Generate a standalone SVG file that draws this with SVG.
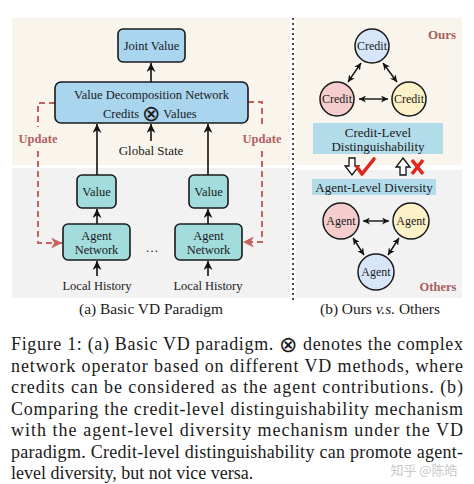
<svg xmlns="http://www.w3.org/2000/svg" width="474" height="484" viewBox="0 0 474 484">
<defs>
<style>
.t{font-family:"Liberation Serif","Times New Roman",serif;fill:#1a1a1a;text-anchor:middle}
.s12{font-size:12.5px}
.s13{font-size:13px}
.upd{font-family:"Liberation Serif","Times New Roman",serif;font-weight:bold;font-size:12.5px;fill:#b0605c;text-anchor:middle}
.box1{fill:#a9d5ef;stroke:#1a1a1a;stroke-width:1.6}
.box2{fill:#a3dcdc;stroke:#1a1a1a;stroke-width:1.6}
.lbl{fill:#b3dcea}
.conn{stroke:#111;stroke-width:1.6;fill:none}
.dash{stroke:#c4625e;stroke-width:2;fill:none;stroke-dasharray:6 4}
.dbl{stroke:#111;stroke-width:1.4;fill:none}
.cap{font-family:"Liberation Serif","Times New Roman",serif;font-size:18px;fill:#1a1a1a}
.otimes{font-family:"DejaVu Sans",sans-serif;font-weight:200}
</style>
<marker id="ah" viewBox="0 0 10 10" refX="10" refY="5" markerWidth="9" markerHeight="9" markerUnits="userSpaceOnUse" orient="auto-start-reverse"><path d="M0,0 L10,5 L0,10 L3,5 z" fill="#111"/></marker>
<marker id="ahs" viewBox="0 0 10 10" refX="10" refY="5" markerWidth="7" markerHeight="7" markerUnits="userSpaceOnUse" orient="auto-start-reverse"><path d="M0,0 L10,5 L0,10 L3,5 z" fill="#111"/></marker>
<marker id="ahr" viewBox="0 0 10 10" refX="10" refY="5" markerWidth="11" markerHeight="11" markerUnits="userSpaceOnUse" orient="auto"><path d="M0,0 L10,5 L0,10 L3,5 z" fill="#c4625e"/></marker>
</defs>
<rect width="474" height="484" fill="#ffffff"/>
<!-- panels -->
<g id="panels">
<rect x="12" y="18" width="278" height="147" fill="#f9f5ec"/>
<rect x="12" y="168" width="278" height="130" fill="#f2f2f2"/>
<rect x="296" y="18" width="166" height="147" fill="#f9f5ec"/>
<rect x="296" y="170" width="166" height="128" fill="#f2f2f2"/>
<line x1="293" y1="18" x2="293" y2="300" stroke="#111" stroke-width="1.5" stroke-dasharray="2 3"/>
</g>
<!-- connectors -->
<g id="connectors">
<line class="conn" x1="151" y1="82" x2="151" y2="63" marker-end="url(#ah)"/>
<line class="conn" x1="151" y1="141" x2="151" y2="124" marker-end="url(#ah)"/>
<line class="conn" x1="97" y1="175" x2="97" y2="124" marker-end="url(#ah)"/>
<line class="conn" x1="208" y1="175" x2="208" y2="124" marker-end="url(#ah)"/>
<line class="conn" x1="97" y1="224" x2="97" y2="209" marker-end="url(#ah)"/>
<line class="conn" x1="208" y1="224" x2="208" y2="209" marker-end="url(#ah)"/>
<line class="conn" x1="97" y1="276" x2="97" y2="261" marker-end="url(#ah)"/>
<line class="conn" x1="208" y1="276" x2="208" y2="261" marker-end="url(#ah)"/>
<path class="dash" d="M55,103 H38 V127"/>
<path class="dash" d="M38,151 V243 H62" marker-end="url(#ahr)"/>
<path class="dash" d="M248,102 H262 V127"/>
<path class="dash" d="M262,151 V242 H243" marker-end="url(#ahr)"/>
<line class="dbl" x1="348" y1="82" x2="361" y2="63" marker-start="url(#ahs)" marker-end="url(#ahs)"/>
<line class="dbl" x1="383" y1="63" x2="397" y2="82" marker-start="url(#ahs)" marker-end="url(#ahs)"/>
<line class="dbl" x1="359" y1="99" x2="388" y2="99" marker-start="url(#ahs)" marker-end="url(#ahs)"/>
<line class="dbl" x1="363" y1="221" x2="389" y2="221" marker-start="url(#ahs)" marker-end="url(#ahs)"/>
<line class="dbl" x1="353" y1="238" x2="364" y2="255" marker-start="url(#ahs)" marker-end="url(#ahs)"/>
<line class="dbl" x1="399" y1="238" x2="388" y2="255" marker-start="url(#ahs)" marker-end="url(#ahs)"/>
</g>
<!-- left panel nodes -->
<g id="joint-value"><rect class="box1" x="118" y="29" width="67" height="33" rx="5"/><text class="t s12" x="151.5" y="50">Joint Value</text></g>
<g id="vdn"><rect class="box1" x="55" y="82" width="193" height="41" rx="6"/>
<text class="t s12" x="151.5" y="99">Value Decomposition Network</text>
<text class="t s12" x="121" y="118">Credits</text>
<text class="t otimes" x="151" y="120.5" style="font-size:22px">⊗</text>
<text class="t s12" x="180" y="118">Values</text></g>
<g id="global-state"><text class="t s13" x="151" y="155">Global State</text></g>
<g id="value-1"><rect class="box2" x="77" y="175" width="39" height="33" rx="5"/><text class="t s12" x="96.5" y="196">Value</text></g>
<g id="value-2"><rect class="box2" x="189" y="175" width="39" height="33" rx="5"/><text class="t s12" x="208.5" y="196">Value</text></g>
<g id="agent-net-1"><rect class="box2" x="63" y="224" width="67" height="36" rx="5"/><text class="t s12" x="96.5" y="240">Agent</text><text class="t s12" x="96.5" y="254">Network</text></g>
<g id="agent-net-2"><rect class="box2" x="175" y="224" width="67" height="36" rx="5"/><text class="t s12" x="208.5" y="240">Agent</text><text class="t s12" x="208.5" y="254">Network</text></g>
<g id="dots"><text class="t s13" x="152" y="252">…</text></g>
<g id="local-history-1"><text class="t s12" x="97" y="290">Local History</text></g>
<g id="local-history-2"><text class="t s12" x="208" y="290">Local History</text></g>
<g id="update-left"><text class="upd" x="38" y="143">Update</text></g>
<g id="update-right"><text class="upd" x="262" y="143">Update</text></g>
<g id="caption-a"><text class="t" x="151" y="314" style="font-size:15.4px">(a) Basic VD Paradigm</text></g>
<!-- right panel nodes -->
<g id="ours"><text class="upd" x="442" y="39" style="font-size:13px;fill:#a8605a">Ours</text></g>
<g id="credit-top"><circle cx="372" cy="46" r="17" fill="#d6e6f8" stroke="#1a1a1a" stroke-width="1.5"/><text class="t" x="372" y="50" style="font-size:12px">Credit</text></g>
<g id="credit-left"><circle cx="337" cy="99" r="17" fill="#f5cdcd" stroke="#1a1a1a" stroke-width="1.5"/><text class="t" x="337" y="103" style="font-size:12px">Credit</text></g>
<g id="credit-right"><circle cx="409" cy="99" r="17" fill="#fdf1c8" stroke="#1a1a1a" stroke-width="1.5"/><text class="t" x="409" y="103" style="font-size:12px">Credit</text></g>
<g id="credit-level"><rect class="lbl" x="313" y="123" width="130" height="31"/><text class="t s13" x="378" y="137">Credit-Level</text><text class="t s13" x="378" y="151">Distinguishability</text></g>
<g id="promote">
<polygon points="349,158 355,158 355,166 359,166 352,175 345,166 349,166" fill="#fff" stroke="#111" stroke-width="1.3"/>
<path d="M357,167 L362,174 L374,159" fill="none" stroke="#e0261e" stroke-width="3.6" stroke-linecap="round" stroke-linejoin="round"/>
<polygon points="403,158 410,167 406,167 406,175 400,175 400,167 396,167" fill="#fff" stroke="#111" stroke-width="1.3"/>
<path d="M412,160 L423,174 M423,160 L412,174" fill="none" stroke="#e0261e" stroke-width="3.6"/>
</g>
<g id="agent-level"><rect class="lbl" x="312" y="179" width="124" height="16"/><text class="t s13" x="374" y="191.5">Agent-Level Diversity</text></g>
<g id="agent-left"><circle cx="341" cy="221" r="18" fill="#f5cdcd" stroke="#1a1a1a" stroke-width="1.5"/><text class="t" x="341" y="225" style="font-size:12px">Agent</text></g>
<g id="agent-right"><circle cx="411" cy="221" r="18" fill="#fdf1c8" stroke="#1a1a1a" stroke-width="1.5"/><text class="t" x="411" y="225" style="font-size:12px">Agent</text></g>
<g id="agent-bottom"><circle cx="376" cy="272" r="18" fill="#d6e6f8" stroke="#1a1a1a" stroke-width="1.5"/><text class="t" x="376" y="276" style="font-size:12px">Agent</text></g>
<g id="others"><text class="upd" x="438" y="291" style="font-size:12.5px;fill:#a8605a">Others</text></g>
<g id="caption-b"><text class="t" x="380" y="314" style="font-size:15.4px">(b) Ours <tspan font-style="italic">v.s.</tspan> Others</text></g>
<!-- figure caption -->
<g id="figure-caption">
<text class="cap" x="11" y="350" textLength="452" lengthAdjust="spacing">Figure 1: (a) Basic VD paradigm. <tspan class="otimes" font-size="22" dy="1.5">⊗</tspan><tspan dy="-1.5"> denotes the complex</tspan></text>
<text class="cap" x="11" y="371.5" textLength="452" lengthAdjust="spacing">network operator based on different VD methods, where</text>
<text class="cap" x="11" y="393" textLength="452" lengthAdjust="spacing">credits can be considered as the agent contributions. (b)</text>
<text class="cap" x="11" y="414.5" textLength="452" lengthAdjust="spacing">Comparing the credit-level distinguishability mechanism</text>
<text class="cap" x="11" y="436" textLength="452" lengthAdjust="spacing">with the agent-level diversity mechanism under the VD</text>
<text class="cap" x="11" y="457.5" textLength="452" lengthAdjust="spacing">paradigm. Credit-level distinguishability can promote agent-</text>
<text class="cap" x="11" y="479">level diversity, but not vice versa.</text>
</g>
<g id="watermark"><text x="424" y="475" style="font-family:'Noto Sans CJK SC',sans-serif;font-size:13px;fill:#c9c9c9;text-anchor:middle">知乎 @陈皓</text></g>
</svg>
